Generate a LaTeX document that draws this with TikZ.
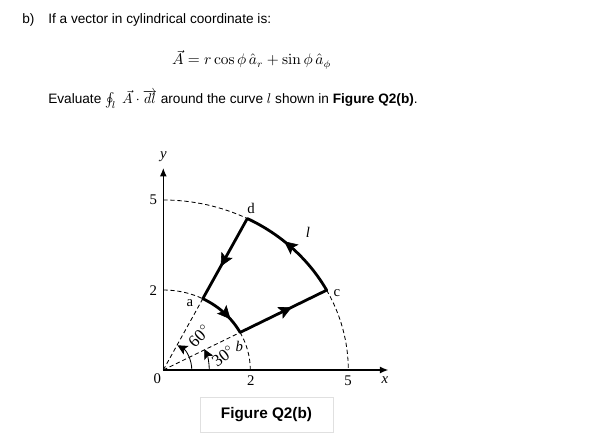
\documentclass[tikz,border=0pt]{standalone}
\usepackage[no-math]{fontspec}
\setmainfont{Liberation Sans}
\newfontfamily\timesfont{Liberation Serif}
\usetikzlibrary{arrows.meta,decorations.markings,positioning}

\begin{document}
\begin{tikzpicture}[x=0.025cm, y=0.025cm,
    main line/.style={line width=2pt, line join=round},
    dash line/.style={dash pattern=on 3pt off 2pt, line width=0.6pt},
    axis line/.style={line width=0.9pt, -{Latex[length=6pt,width=5pt]}},
    angle line/.style={line width=0.6pt, -{Stealth[length=7pt,width=7pt,inset=1.5pt]}},
    mid arrow/.style={postaction={decorate}, decoration={markings,
        mark=at position #1 with {\arrow{Stealth[length=9.5pt,width=9pt,inset=2pt]}}}},
    mid arrow/.default=0.6,
    fig label/.style={font=\timesfont\fontsize{10.5}{12}\selectfont, inner sep=1pt},
    angle label/.style={font=\timesfont\fontsize{12}{14}\selectfont, inner sep=0pt},
    text line/.style={font=\fontsize{9.7}{12}\selectfont, inner sep=0pt, anchor=base west}]

  \useasboundingbox (0,0) rectangle (594,445);

  % question
  \node[text line] (1) at (22,421.5) {b)};
  \node[text line] (2) at (48,421.5) {If a vector in cylindrical coordinate is:};
  \node[inner sep=0pt, anchor=base, font=\fontsize{10.5}{12}\selectfont] (3) at (251.5,380)
      {$\vec{A} = r\cos\phi\,\hat{a}_r + \sin\phi\,\hat{a}_\phi$};
  \node[text line] (4) at (48,341)
      {Evaluate $\oint_l\ \vec{A}\cdot\overrightarrow{dl}$ around the curve $l$ shown in \textbf{Figure Q2(b)}.};

  \begin{scope}[shift={(163.3,75)}]
    \coordinate (O) at (0,0);
    \coordinate (a) at (63:87 and 80);
    \coordinate (b) at (28:87 and 80);
    \coordinate (c) at (28:185 and 170);
    \coordinate (d) at (63:185 and 170);
    \coordinate (xend) at (225,0);
    \coordinate (yend) at (0,202);

    % axes
    \draw[axis line] (O) -- (xend);
    \draw[axis line] (O) -- (yend);

    % dashed guides
    \draw[dash line] (0,80) arc[start angle=90, end angle=63, x radius=87, y radius=80];
    \draw[dash line] (b) arc[start angle=28, end angle=0, x radius=87, y radius=80];
    \draw[dash line] (0,170) arc[start angle=90, end angle=63, x radius=185, y radius=170];
    \draw[dash line] (c) arc[start angle=28, end angle=0, x radius=185, y radius=170];
    \draw[dash line] (O) -- (a);
    \draw[dash line] (O) -- (b);

    % the curve l
    \draw[main line] (a) arc[start angle=63, end angle=28, x radius=87, y radius=80]
      -- (c) arc[start angle=28, end angle=63, x radius=185, y radius=170] -- cycle;
    \path[mid arrow=0.68] (a) arc[start angle=63, end angle=28, x radius=87, y radius=80];
    \path[mid arrow] (b) -- (c);
    \path[mid arrow=0.6] (c) arc[start angle=28, end angle=63, x radius=185, y radius=170];
    \path[mid arrow=0.6] (d) -- (a);

    % angles
    \draw[angle line] (28.5,0) arc[start angle=0, end angle=60, radius=28.5];
    \draw[angle line] (46,0) arc[start angle=0, end angle=27, radius=46];
    \node[angle label, rotate=45] (60) at (36,34) {60$^\circ$};
    \node[angle label, rotate=38] (30) at (60,14) {30$^\circ$};

    % labels
    \node[fig label] (ylab) at (0,213) {\itshape y};
    \node[fig label] (xlab) at (221.7,-10) {\itshape x};
    \node[fig label] (y5) at (-10,170) {5};
    \node[fig label] (y2) at (-10,79) {2};
    \node[fig label] (0) at (-6,-9) {0};
    \node[fig label] (x2) at (87.4,-11) {2};
    \node[fig label] (x5) at (184.7,-11) {5};
    \node[fig label] (dlab) at (87.7,162) {d};
    \node[fig label] (clab) at (173.7,77) {c};
    \node[fig label] (alab) at (26.7,67) {a};
    \node[fig label] (blab) at (76,24) {\itshape b};
    \node[fig label] (llab) at (144.7,138) {\itshape l};
  \end{scope}

  % caption
  \node[draw=black!12, line width=0.4pt, minimum width=3.33cm, minimum height=0.87cm,
        font=\bfseries\fontsize{10.9}{12}\selectfont] (cap) at (266.5,30) {Figure Q2(b)};

\end{tikzpicture}
\end{document}
